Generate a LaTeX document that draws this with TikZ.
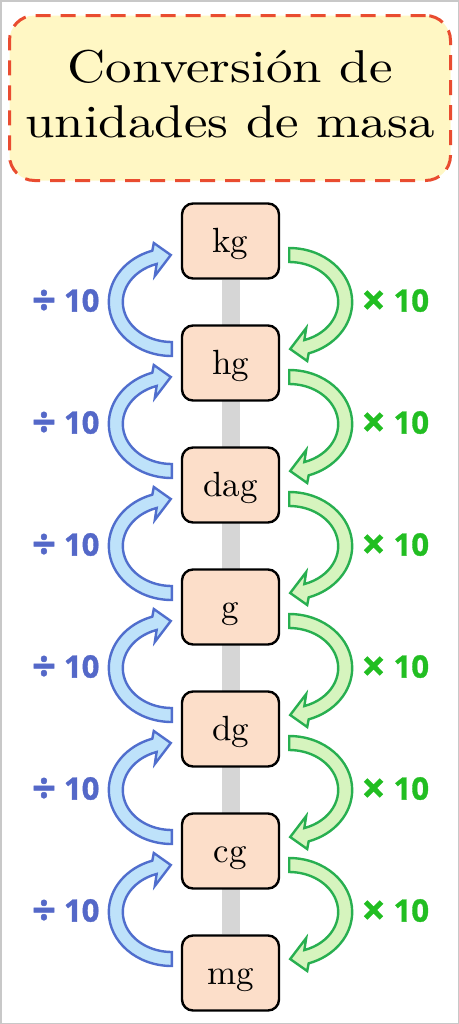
\documentclass[tikz,border=0pt]{standalone}
\usepackage{fontspec}
\newfontfamily\labelfont{Open Sans}[BoldFeatures={FakeBold=1.2}]
\newfontfamily\titlefont{lmroman10-regular.otf}[FakeStretch=1.15]
\newfontfamily\unitfont{lmroman10-regular.otf}
\usepackage{tikz}
\usetikzlibrary{positioning,calc,backgrounds}
\definecolor{titlefill}{RGB}{255,247,196}
\definecolor{dashred}{RGB}{233,76,48}
\definecolor{boxfill}{RGB}{252,222,201}
\definecolor{bargray}{RGB}{214,214,214}
\definecolor{divline}{RGB}{80,110,205}
\definecolor{divfill}{RGB}{190,226,250}
\definecolor{mulline}{RGB}{40,175,80}
\definecolor{mulfill}{RGB}{214,244,190}
\definecolor{divtext}{RGB}{84,104,200}
\definecolor{multext}{RGB}{34,190,34}
\definecolor{framegray}{RGB}{200,200,200}

\newcommand{\opsym}[1]{\raisebox{-1.6pt}{\fontsize{21}{21}\selectfont #1}}

\tikzset{
  unitbox/.style={draw=black, line width=1.2pt, rounded corners=5.5pt, fill=boxfill,
    minimum width=48.5pt, minimum height=37.5pt, text height=12pt, text depth=1pt,
    font=\unitfont\fontsize{17.5}{20}\selectfont},
  titlebox/.style={draw=dashred, line width=1.5pt, dash pattern=on 7.5pt off 5pt,
    rounded corners=12.5pt, fill=titlefill, minimum width=220.5pt, minimum height=82.5pt,
    align=center, font=\titlefont\fontsize{23}{27.5}\selectfont},
  bar/.style={bargray, line width=9pt},
  divarrow/.style={draw=divline, fill=divfill, line width=1.2pt},
  mularrow/.style={draw=mulline, fill=mulfill, line width=1.2pt},
  divlabel/.style={inner sep=0pt, text=divtext, font=\labelfont\bfseries\fontsize{15.5}{18}\selectfont},
  mullabel/.style={inner sep=0pt, text=multext, font=\labelfont\bfseries\fontsize{15.5}{18}\selectfont},
  fatarc/.pic={
    \path[pic actions] (270:63 and 54) arc[start angle=270, end angle=432, x radius=63, y radius=54]
      -- (18,59) -- (1,47) -- (17,26) -- (432:49 and 40)
      arc[start angle=432, end angle=270, x radius=49, y radius=40] -- cycle;
  }
}

\begin{document}
\begin{tikzpicture}[x=0.5pt, y=-0.5pt, node distance=22.3pt]
  \useasboundingbox (0,0) rectangle (459,1024);
  \draw[framegray, line width=0.75pt] (0.75,0.75) rectangle (458.25,1023.25);

  % title
  \node[titlebox] (title) at (230,98) {Conversión de\\unidades de masa\rule[-4pt]{0pt}{0pt}};

  % units
  \node[unitbox] (kg) at (230.5,241) {kg};
  \node[unitbox, below=of kg] (hg) {hg};
  \node[unitbox, below=of hg] (dag) {dag};
  \node[unitbox, below=of dag] (g) {g};
  \node[unitbox, below=of g] (dg) {dg};
  \node[unitbox, below=of dg] (cg) {cg};
  \node[unitbox, below=of cg] (mg) {mg};

  \begin{scope}[on background layer]
    \draw[bar] (kg) -- (mg);
  \end{scope}

  % arrows and factors
  \foreach \a/\b in {kg/hg, hg/dag, dag/g, g/dg, dg/cg, cg/mg} {
    \coordinate (l) at ($(\a.west)!.5!(\b.west)+(-9,0)$);
    \coordinate (r) at ($(\a.east)!.5!(\b.east)+(9,0)$);
    \pic[divarrow, rotate=180] at (l) {fatarc};
    \pic[mularrow] at (r) {fatarc};
    \node[divlabel, left=36pt of l] {\opsym{÷} 10};
    \node[mullabel, right=36pt of r] {\opsym{×} 10};
  }
\end{tikzpicture}
\end{document}
